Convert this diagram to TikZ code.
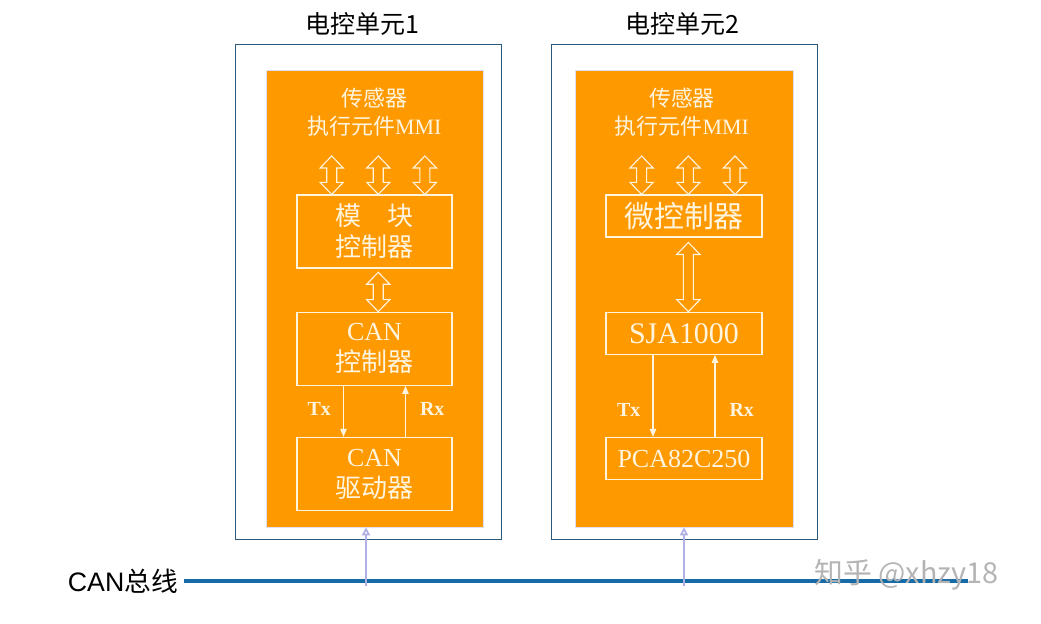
\documentclass[tikz,border=0pt]{standalone}
\usepackage{fontspec}
\setmainfont{Liberation Serif}
\newfontfamily\cjk{Noto Sans CJK SC}
\newfontfamily\arialike{Liberation Sans}
\usetikzlibrary{positioning, arrows.meta, calc}
\definecolor{ecuframe}{RGB}{42,88,122}
\definecolor{panelorange}{RGB}{255,153,0}
\definecolor{cream}{RGB}{255,244,222}
\definecolor{busblue}{RGB}{22,106,166}
\definecolor{taplilac}{RGB}{176,176,228}
\definecolor{markgrey}{RGB}{180,180,180}
\newcommand{\bothway}[2]{
  \draw[hollowarr] let \p1=(#1), \p2=(#2) in
    (\x1,\y1) -- (\x1+2.9mm,\y1-3mm) -- (\x1+1.25mm,\y1-3mm) -- (\x1+1.25mm,\y2+3mm)
    -- (\x1+2.9mm,\y2+3mm) -- (\x1,\y2) -- (\x1-2.9mm,\y2+3mm) -- (\x1-1.25mm,\y2+3mm)
    -- (\x1-1.25mm,\y1-3mm) -- (\x1-2.9mm,\y1-3mm) -- cycle;
}

\begin{document}
\begin{tikzpicture}[
    x=0.25mm, y=-0.25mm,
    every node/.style={inner sep=0pt},
    ecubox/.style={draw=ecuframe, line width=0.7pt, minimum width=66.5mm, minimum height=123.75mm},
    orangepanel/.style={fill=panelorange, draw=taplilac!40, line width=0.4pt, minimum width=54.25mm, minimum height=114.25mm},
    unittitle/.style={text=black, font=\cjk\fontsize{17.8pt}{20pt}\selectfont},
    senstext/.style={text=cream, align=center, font=\fontsize{15.6pt}{19.9pt}\selectfont},
    blk/.style={draw=cream, line width=0.9pt, text=cream, align=center, minimum width=38.75mm, font=\fontsize{18.5pt}{22pt}\selectfont},
    bigblk/.style={blk, font=\fontsize{21.3pt}{24pt}\selectfont},
    wire/.style={draw=cream, line width=0.8pt, -{Triangle[length=2mm,width=1.6mm]}},
    lbl/.style={text=cream, font=\bfseries\fontsize{14.2pt}{16pt}\selectfont},
    hollowarr/.style={draw=cream, line width=0.8pt, fill=panelorange},
    busline/.style={draw=busblue, line width=2.2pt},
    tapline/.style={draw=taplilac, line width=1.2pt, -{Triangle[open, length=2mm, width=2mm]}},
]
\useasboundingbox (0,0) rectangle (1041,623);

% ------------------------------------------------------------- unit 1 ---
\node[ecubox] (frame1) at (368,291.5) {};
\node[orangepanel] (panel1) at (374.5,298.5) {};
\node[unittitle, above=2mm of frame1, xshift=-1.5mm] (title1) {电控单元1};
\node[senstext, below=4.5mm of panel1.north] (sens1) {{\cjk 传感器}\\{\cjk 执行元件}MMI};

\node[blk, minimum height=18.25mm] (mod1) at (374.5,231.5) {{\cjk 模\quad 块}\\{\cjk 控制器}};
\node[blk, minimum height=18.25mm, below=10.75mm of mod1] (can1) {CAN\\{\cjk 控制器}};
\node[blk, minimum height=18.25mm, below=12.75mm of can1] (drv1) {CAN\\{\cjk 驱动器}};

\bothway{[xshift=-10.7mm, yshift=9.6mm]mod1.north}{[xshift=-10.7mm]mod1.north}
\bothway{[xshift=0.95mm, yshift=9.6mm]mod1.north}{[xshift=0.95mm]mod1.north}
\bothway{[xshift=12.6mm, yshift=9.6mm]mod1.north}{[xshift=12.6mm]mod1.north}
\bothway{[xshift=0.95mm, yshift=-0.9mm]mod1.south}{[xshift=0.95mm]can1.north}

\draw[wire] ([xshift=-7.75mm]can1.south) -- node[lbl, pos=0.45, left=3mm] (tx1) {Tx} ([xshift=-7.75mm]drv1.north);
\draw[wire] ([xshift=7.75mm]drv1.north) -- node[lbl, pos=0.55, right=3.5mm] (rx1) {Rx} ([xshift=7.75mm]can1.south);

% ------------------------------------------------------------- unit 2 ---
\node[ecubox] (frame2) at (684.5,291.5) {};
\node[orangepanel, minimum width=54.5mm] (panel2) at (684,298.5) {};
\node[unittitle, above=2mm of frame2, xshift=-0.6mm] (title2) {电控单元2};
\node[senstext, below=4.5mm of panel2.north, xshift=-0.5mm] (sens2) {{\cjk 传感器}\\{\cjk 执行元件}MMI};

\node[bigblk, minimum width=39mm, minimum height=10.5mm] (mcu2) at (684,216) {{\cjk 微控制器}};
\node[bigblk, minimum width=39mm, minimum height=10.5mm, below=18.5mm of mcu2] (sja2) {SJA1000};
\node[blk, minimum width=39mm, minimum height=10.5mm, below=20.5mm of sja2] (pca2) {PCA82C250};

\bothway{[xshift=-10.6mm, yshift=9.6mm]mcu2.north}{[xshift=-10.6mm]mcu2.north}
\bothway{[xshift=1.1mm, yshift=9.6mm]mcu2.north}{[xshift=1.1mm]mcu2.north}
\bothway{[xshift=12.75mm, yshift=9.6mm]mcu2.north}{[xshift=12.75mm]mcu2.north}
\bothway{[xshift=1.1mm, yshift=-1.2mm]mcu2.south}{[xshift=1.1mm]sja2.north}

\draw[wire] ([xshift=-7.75mm]sja2.south) -- node[lbl, pos=0.67, left=3mm] (tx2) {Tx} ([xshift=-7.75mm]pca2.north);
\draw[wire] ([xshift=7.75mm]pca2.north) -- node[lbl, pos=0.33, right=3.5mm] (rx2) {Rx} ([xshift=7.75mm]sja2.south);

% ------------------------------------------------------------ CAN bus ---
\node[anchor=base east, font=\fontsize{19pt}{22pt}\selectfont] (canbus) at (178,591) {{\arialike CAN}{\cjk 总线}};
\coordinate (busstart) at (184,581);
\coordinate (busend) at (968,581);
\draw[busline] (busstart) -- (busend);

\coordinate (tap1) at (366,586);
\draw[tapline] (tap1) -- (tap1 |- panel1.south);
\coordinate (tap2) at (684,586);
\draw[tapline] (tap2) -- (tap2 |- panel2.south);

\node[anchor=west, text=markgrey, font=\cjk\fontsize{20.5pt}{22pt}\selectfont] (mark) at (814,575) {知乎 @xhzy18};

\end{tikzpicture}
\end{document}
